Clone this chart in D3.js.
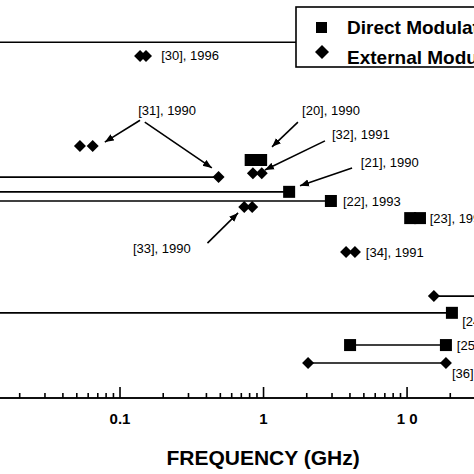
<!DOCTYPE html><html><head><meta charset="utf-8">
<script src="https://cdn.jsdelivr.net/npm/d3@7"></script>
<style>body{margin:0;background:#fff}text{font-family:"Liberation Sans",Arial,sans-serif}</style></head><body>
<script>
// Data (frequency GHz, vertical value in arbitrary units)
const squares = [[0.82,59.8],[0.97,59.8],[1.52,51.8],[2.97,49.5],[10.6,45.2],[12.4,45.2],[20.7,21.4],[4.04,13.3],[18.8,13.3]];
const diamonds = [[0.139,85.9],[0.153,85.9],[0.053,63.3],[0.065,63.3],[0.49,55.5],[0.85,56.5],[0.98,56.5],[0.74,48.0],[0.84,48.0],[3.79,36.7],[4.37,36.7],[15.5,25.6],[2.06,8.8],[18.8,8.8]];
const segments = [[0.001,89.4,12,89.4],[0.001,55.5,0.49,55.5],[0.001,51.8,1.52,51.8],[0.001,49.5,2.97,49.5],[15.5,25.6,100,25.6],[0.001,21.4,20.7,21.4],[4.04,13.3,18.8,13.3],[2.06,8.8,18.8,8.8]];
const arrows = [[0.139,69.8,0.079,64.3],[0.15,69.3,0.44,57.8],[1.75,69.3,1.155,63.1],[2.7,64.6,1.03,57.3],[4.17,57.8,1.81,53.3],[0.41,38.9,0.67,46.5]];
const labels = [["[30], 1996",0.195,84.9],["[31], 1990",0.135,71.1],["[20], 1990",1.87,71.1],["[32], 1991",3.02,65.1],["[21], 1990",4.8,58.0],["[22], 1993",3.6,48.2],["[23], 1996",14.5,44.0],["[33], 1990",0.124,36.4],["[34], 1991",5.2,35.4],["[24], 1996",24.4,18.1],["[25], 1996",22.4,12.1],["[36], 1996",20.7,5.0]];
const majorTicks = [0.1,1,10];
const minorTicks = [0.02,0.03,0.04,0.05,0.06,0.07,0.08,0.09,0.2,0.3,0.4,0.5,0.6,0.7,0.8,0.9,2,3,4,5,6,7,8,9,20];
const legendItems = ["Direct Modulation","External Modulation"];

const W=474,H=474;
const svg=d3.select("body").append("svg").attr("width",W).attr("height",H);
const x=d3.scaleLog().domain([0.0147,29.5]).range([0,W]);
const y=d3.scaleLinear().domain([0,100]).range([398,0]);
const axY=398;

svg.append("defs").append("marker").attr("id","ah").attr("viewBox","0 0 10 10").attr("refX",10).attr("refY",5)
 .attr("markerWidth",9).attr("markerHeight",9).attr("markerUnits","userSpaceOnUse").attr("orient","auto")
 .append("path").attr("d","M0,1 L10,5 L0,9 Z").attr("fill","#000");
svg.append("g").selectAll("line").data(segments).join("line")
 .attr("x1",d=>x(d[0])).attr("y1",d=>y(d[1])).attr("x2",d=>x(d[2])).attr("y2",d=>y(d[3]))
 .attr("stroke","#000").attr("stroke-width",1.6);
svg.append("g").selectAll("line").data(arrows).join("line")
 .attr("x1",d=>x(d[0])).attr("y1",d=>y(d[1])).attr("x2",d=>x(d[2])).attr("y2",d=>y(d[3]))
 .attr("stroke","#000").attr("stroke-width",1.6).attr("marker-end","url(#ah)");
svg.append("g").selectAll("rect").data(squares).join("rect")
 .attr("x",d=>x(d[0])-6).attr("y",d=>y(d[1])-6).attr("width",12).attr("height",12).attr("fill","#000");
svg.append("g").selectAll("path").data(diamonds).join("path")
 .attr("transform",d=>`translate(${x(d[0])},${y(d[1])})`).attr("d","M0,-6 L6,0 L0,6 L-6,0 Z").attr("fill","#000");
svg.append("g").selectAll("text").data(labels).join("text")
 .attr("x",d=>x(d[1])).attr("y",d=>y(d[2])).attr("font-size",13).text(d=>d[0]);

const g=svg.append("g").attr("transform",`translate(0,${axY})`);
g.call(d3.axisBottom(x).tickValues(minorTicks).tickSize(-5).tickFormat(""));
const gm=svg.append("g").attr("transform",`translate(0,${axY})`);
gm.call(d3.axisBottom(x).tickValues(majorTicks).tickSize(-11).tickPadding(15).tickFormat(d=>d>=1?String(d).split("").join(" "):"0.1"));
[g,gm].forEach(a=>{a.selectAll("path,line").attr("stroke","#000").attr("stroke-width",1.6);a.select(".domain").attr("d",`M0,0H${W}`);});
gm.selectAll("text").attr("font-size",15).attr("font-weight","bold").attr("font-family","Liberation Sans, Arial").attr("fill","#000");
svg.append("text").attr("x",x(1)).attr("y",465).attr("text-anchor","middle").attr("font-size",21).attr("font-weight","bold").text("FREQUENCY (GHz)");

const lg=svg.append("g").attr("transform","translate(296,7)");
lg.append("rect").attr("width",200).attr("height",60).attr("fill","#fff").attr("stroke","#000").attr("stroke-width",1.6);
lg.append("rect").attr("x",20).attr("y",15).attr("width",11).attr("height",11).attr("fill","#000");
lg.append("path").attr("transform","translate(26,45)").attr("d","M0,-7 L7,0 L0,7 L-7,0 Z").attr("fill","#000");
lg.selectAll("text.l").data(legendItems).join("text").attr("class","l").attr("x",51).attr("y",(d,i)=>27+i*30)
 .attr("font-size",19).attr("font-weight","bold").text(d=>d);
</script></body></html>
